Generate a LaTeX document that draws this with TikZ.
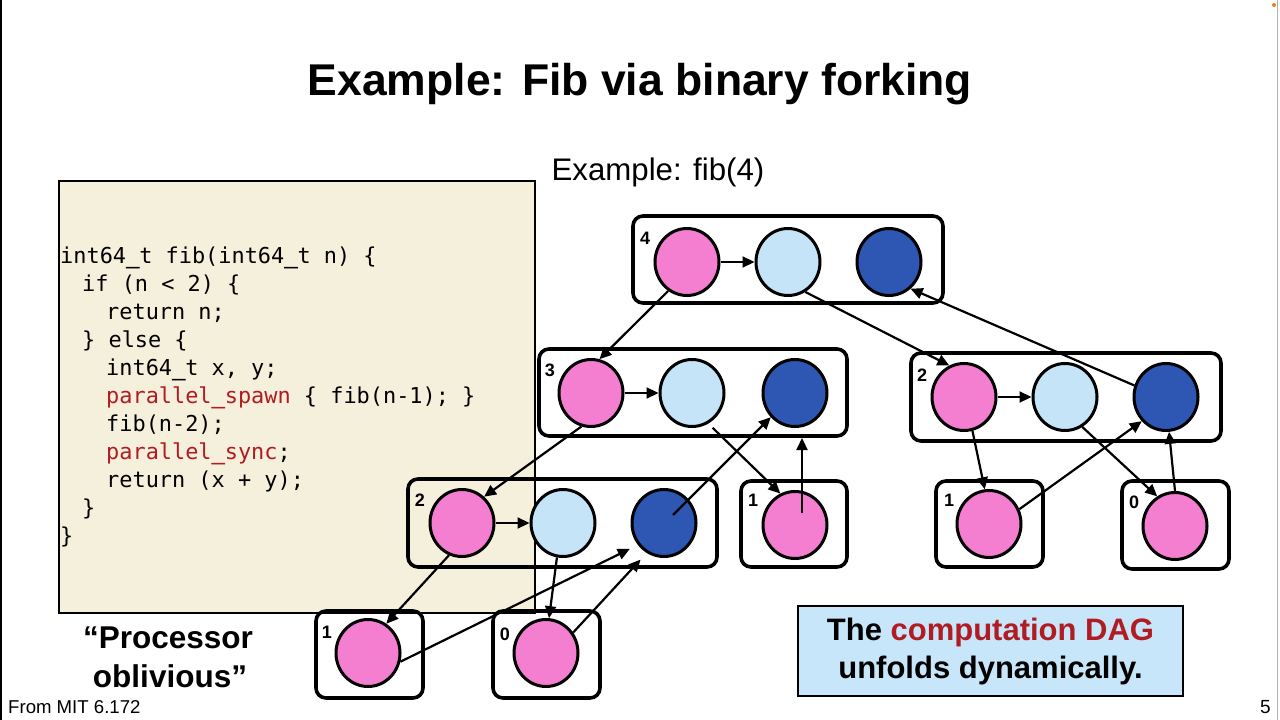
\documentclass[tikz,border=0pt]{standalone}
\usepackage{fontspec}
\setmainfont{Liberation Sans}
\setmonofont{DejaVu Sans Mono}
\newfontfamily\usfont{DejaVu Sans Mono}[FakeBold=3]
\newcommand{\us}{{\usfont\_}}
\usetikzlibrary{arrows.meta,shapes.geometric}
\definecolor{pk}{HTML}{F47FD0}
\definecolor{lb}{HTML}{C6E4F8}
\definecolor{db}{HTML}{2E56B3}
\definecolor{beige}{HTML}{F5F0DC}
\definecolor{boxblue}{HTML}{C8E6FA}
\definecolor{kwred}{HTML}{B01C22}
\tikzset{
  vtx/.style={ellipse, draw=black, line width=3bp, minimum width=64bp, minimum height=67bp, inner sep=0pt},
  pv/.style={vtx, fill=pk},
  lv/.style={vtx, fill=lb},
  dv/.style={vtx, fill=db},
  frame/.style={draw=black, line width=3.6bp, rounded corners=10bp, inner sep=0pt},
  lbl/.style={font=\fontsize{18bp}{18bp}\selectfont\bfseries, inner sep=0pt},
  edge/.style={line width=2.2bp, -{Triangle[length=12bp,width=11bp]}},
  codeln/.style={anchor=base west, inner sep=0pt, font=\fontsize{21.9bp}{28bp}\selectfont\ttfamily},
  txt/.style={inner sep=0pt, anchor=base},
}
\begin{document}
\begin{tikzpicture}[x=1bp,y=-1bp]
\useasboundingbox (0,0) rectangle (1280,720);
\fill[white] (0,0) rectangle (1280,720);
\draw[line width=2bp] (1,0) -- (1,720);
\draw[gray!60, line width=1bp] (1277,0) -- (1277,720);
\fill[orange!70!brown] (1274,5) circle[radius=2bp];

% title
\node[txt, font=\fontsize{44.5bp}{50bp}\selectfont\bfseries] (title) at (640,96) {Example: Fib via binary forking};
\node[txt, font=\fontsize{31.2bp}{36bp}\selectfont] (sub) at (658,181) {Example: fib(4)};

% code box
\node[draw=black, line width=2.2bp, fill=beige, minimum width=476bp, minimum height=432bp, anchor=north west, inner sep=0pt] (codebox) at (58,180) {};
\node[codeln] (c1) at (60,263) {int64\us t fib(int64\us t n) \{};
\node[codeln] (c2) at (82,291) {if (n < 2) \{};
\node[codeln] (c3) at (106,319) {return n;};
\node[codeln] (c4) at (82,347) {\} else \{};
\node[codeln] (c5) at (106,375) {int64\us t x, y;};
\node[codeln] (c6) at (106,403) {\textcolor{kwred}{parallel\us spawn} \{ fib(n-1); \}};
\node[codeln] (c7) at (106,431) {fib(n-2);};
\node[codeln] (c8) at (106,459) {\textcolor{kwred}{parallel\us sync};};
\node[codeln] (c9) at (106,487) {return (x + y);};
\node[codeln] (c10) at (82,515) {\}};
\node[codeln] (c11) at (60,543) {\}};

% frames
\node[frame, minimum width=310bp, minimum height=87bp] (f4) at (788,259.5) {};
\node[frame, minimum width=308bp, minimum height=87bp] (f3) at (693,392.5) {};
\node[frame, minimum width=310bp, minimum height=88bp] (f2r) at (1066,397) {};
\node[frame, minimum width=309bp, minimum height=88bp] (f2l) at (562.5,523) {};
\node[frame, minimum width=106bp, minimum height=86bp] (f1a) at (794,524) {};
\node[frame, minimum width=107bp, minimum height=86bp] (f1b) at (989.5,524) {};
\node[frame, minimum width=107bp, minimum height=88bp] (f0a) at (1175.5,525) {};
\node[frame, minimum width=107bp, minimum height=87bp] (f1c) at (369.5,654.5) {};
\node[frame, minimum width=107bp, minimum height=87bp] (f0b) at (546.5,654.5) {};

% frame labels
\node[lbl] (n4) at (645,238) {4};
\node[lbl] (n3) at (550,370) {3};
\node[lbl] (n2r) at (922,375) {2};
\node[lbl] (n2l) at (420,500) {2};
\node[lbl] (n1a) at (753,500) {1};
\node[lbl] (n1b) at (949,500) {1};
\node[lbl] (n0a) at (1134,502) {0};
\node[lbl] (n1c) at (327,632) {1};
\node[lbl] (n0b) at (505,634) {0};

% vertices
\node[pv] (p4) at (687,262) {};
\node[lv] (l4) at (788,262) {};
\node[dv] (d4) at (889,262) {};
\node[pv] (p3) at (591,393) {};
\node[lv] (l3) at (692,393) {};
\node[dv] (d3) at (795,393) {};
\node[pv] (p2r) at (964,397) {};
\node[lv] (l2r) at (1065,397) {};
\node[dv] (d2r) at (1166,397) {};
\node[pv] (p2l) at (462,523) {};
\node[lv] (l2l) at (563,523) {};
\node[dv] (d2l) at (664,523) {};
\node[pv] (p1a) at (795,525) {};
\node[pv] (p1b) at (989,524) {};
\node[pv] (p0a) at (1175,526) {};
\node[pv] (p1c) at (368,653) {};
\node[pv] (p0b) at (546,653) {};

% in-frame edges
\draw[edge] (p4) -- (l4);
\draw[edge] (p3) -- (l3);
\draw[edge] (p2r) -- (l2r);
\draw[edge] (p2l) -- (l2l);

% spawn / continue / sync edges
\draw[edge] (p4.-123) -- (p3.76);
\draw[edge] (l4.-60) -- (p2r.115);
\draw[edge] (d2r.160) -- (d4.-51);
\draw[edge] (p3.-106) -- (p2l.50);
\draw[edge, shorten <=6bp] (l3.-62) -- (p1a.115);
\draw[edge, shorten >=10bp] ([xshift=7bp,yshift=12bp]p1a.center) -- ([xshift=7bp]d3.south);
\draw[edge] ([xshift=9bp,yshift=8bp]d2l.center) -- (d3.-135);
\draw[edge] (p2r.-76) -- (p1b.97);
\draw[edge] (l2r.-60) -- (p0a.121);
\draw[edge] (p1b.26) -- (d2r.-135);
\draw[edge] (p0a.90) -- (d2r.-85);
\draw[edge] (p2l.-112) -- (p1c.58);
\draw[edge] (l2l.-100) -- (p0b.85);
\draw[edge, shorten >=9bp] (p1c.-15) -- (d2l.-140);
\draw[edge, shorten >=9bp] (p0b.37) -- (d2l.-120);

% captions
\node[txt, font=\fontsize{31.5bp}{36bp}\selectfont\bfseries] (po1) at (168,648) {“Processor};
\node[txt, font=\fontsize{31.5bp}{36bp}\selectfont\bfseries] (po2) at (170,687) {oblivious”};
\node[draw=black, line width=2.2bp, fill=boxblue, minimum width=385bp, minimum height=90bp, inner sep=0pt, align=center, font=\fontsize{31bp}{38bp}\selectfont\bfseries] (note) at (990.5,651) {The \textcolor{kwred}{computation DAG}\\unfolds dynamically.};
\node[inner sep=0pt, anchor=base west, font=\fontsize{18.6bp}{20bp}\selectfont] (src) at (8,713) {From MIT 6.172};
\node[inner sep=0pt, anchor=base east, font=\fontsize{19bp}{20bp}\selectfont] (pg) at (1271,713) {5};
\end{tikzpicture}
\end{document}
